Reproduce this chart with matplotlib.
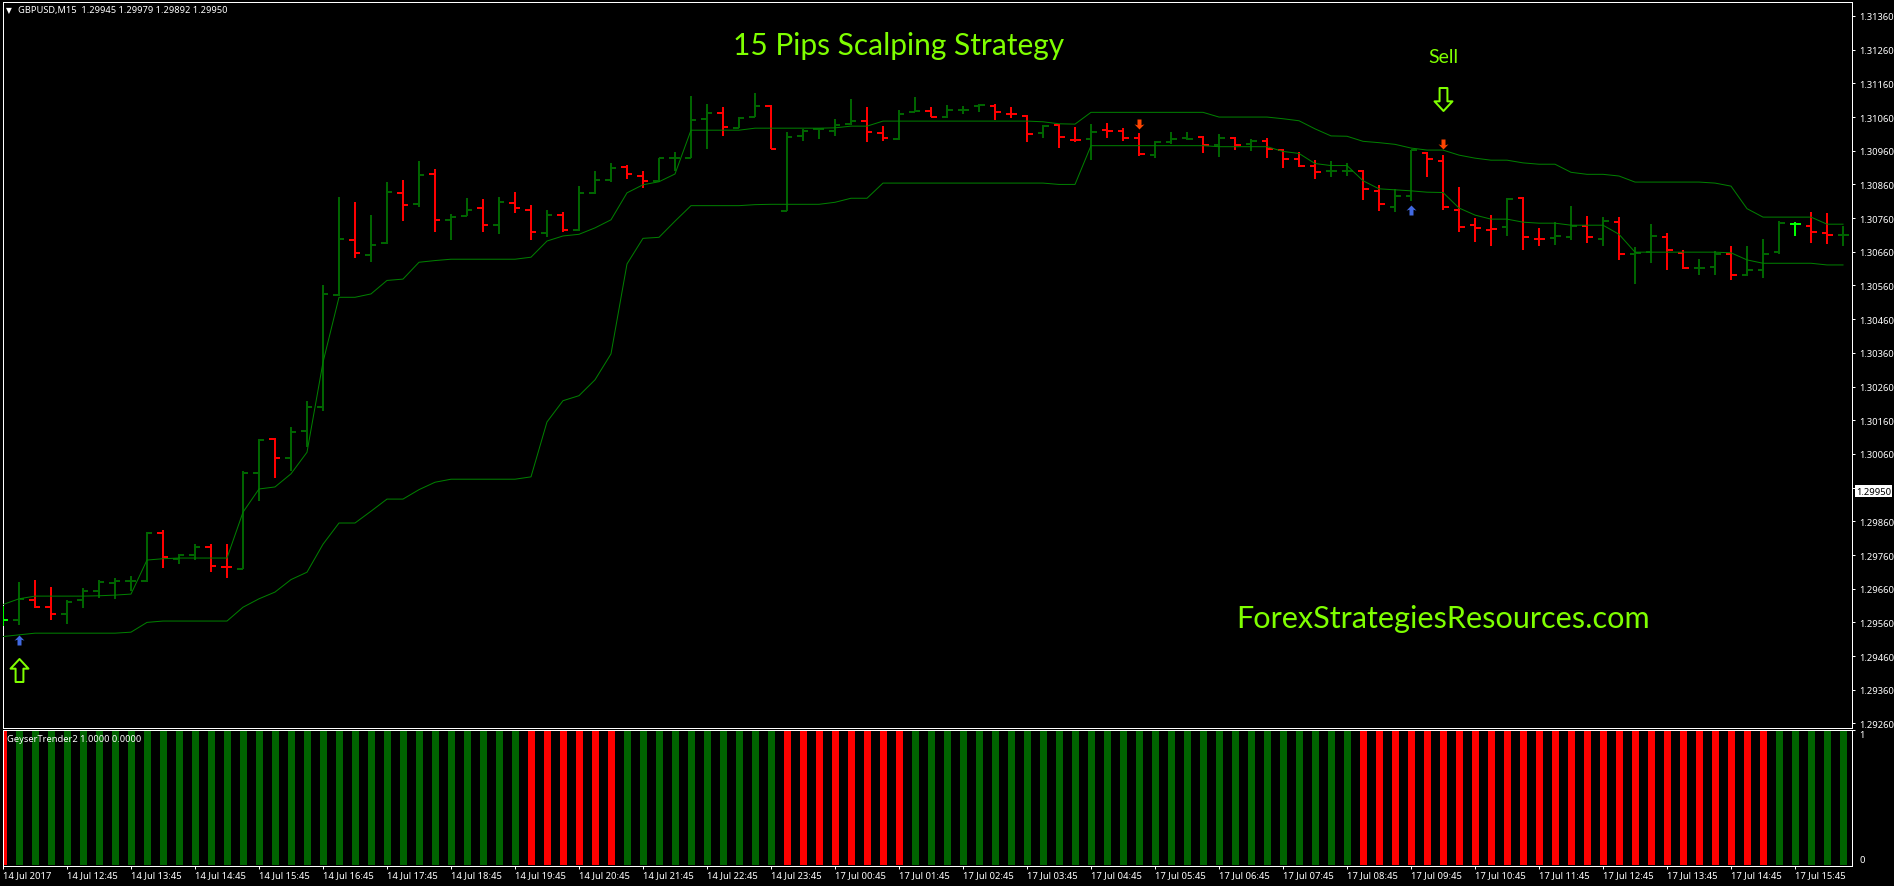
"""
GBPUSD M15 bar chart with the two band lines and the GeyserTrender2 sub window.
"""
import matplotlib
matplotlib.use("Agg")
import matplotlib.pyplot as plt
import numpy as np
from matplotlib.path import Path

# Prices are in points (1.29610 -> 129610)
highs = [
    129610, 129680, 129686, 129665, 129626, 129662, 129686, 129691, 129697, 129828,
    129834, 129763, 129792, 129792, 129792, 130009, 130105, 130108, 130140, 130218,
    130562, 130822, 130807, 130770, 130868, 130873, 130929, 130905, 130772, 130820,
    130817, 130822, 130837, 130798, 130784, 130778, 130855, 130899, 130923, 130917,
    130900, 130938, 130956, 131123, 131099, 131090, 131060, 131131, 131096, 131015,
    131025, 131027, 131055, 131114, 131090, 131033, 131080, 131119, 131090, 131096,
    131092, 131099, 131098, 131090, 131066, 131037, 131038, 131031, 131039, 131043,
    131028, 131013, 130988, 131016, 131016, 131003, 131009, 131000, 130995, 130997,
    130965, 130956, 130932, 130929, 130924, 130902, 130858, 130847, 130963, 130956,
    130948, 130852, 130760, 130769, 130819, 130822, 130731, 130748, 130796, 130767,
    130763, 130763, 130674, 130743, 130716, 130665, 130639, 130662, 130678, 130678,
    130699, 130751, 130748, 130779, 130776, 130737,
]
lows = [
    129548, 129551, 129604, 129568, 129556, 129604, 129633, 129630, 129654, 129681,
    129722, 129734, 129746, 129710, 129692, 129717, 129919, 129989, 130010, 130082,
    130186, 130530, 130641, 130629, 130682, 130750, 130794, 130718, 130696, 130765,
    130718, 130714, 130776, 130696, 130704, 130719, 130722, 130831, 130868, 130877,
    130849, 130868, 130899, 130938, 130964, 131005, 131027, 131060, 130964, 130781,
    130988, 130995, 131005, 131035, 130987, 130990, 130993, 131074, 131060, 131057,
    131069, 131074, 131050, 131058, 130987, 130999, 130968, 130985, 130934, 130998,
    130990, 130945, 130939, 130981, 130993, 130952, 130942, 130963, 130960, 130939,
    130909, 130911, 130877, 130882, 130885, 130814, 130782, 130779, 130811, 130882,
    130783, 130719, 130690, 130678, 130707, 130666, 130678, 130681, 130696, 130687,
    130678, 130636, 130565, 130627, 130606, 130609, 130592, 130592, 130577, 130589,
    130583, 130654, 130707, 130687, 130684, 130678,
]
opens = [
    129568, 129568, 129627, 129606, 129586, 129627, 129652, 129677, 129683, 129683,
    129824, 129749, 129759, 129785, 129725, 129719, 130004, 130105, 130049, 130127,
    130198, 130533, 130696, 130651, 130686, 130835, 130802, 130891, 130753, 130767,
    130790, 130740, 130805, 130785, 130716, 130770, 130725, 130834, 130874, 130911,
    130886, 130871, 130938, 130939, 131055, 131072, 131028, 131061, 131093, 130782,
    131004, 131025, 131019, 131038, 131049, 131014, 130996, 131075, 131078, 131060,
    131082, 131094, 131092, 131069, 131064, 131014, 131035, 130993, 130995, 131022,
    131019, 130997, 130948, 130986, 130997, 131001, 130977, 130999, 130980, 130988,
    130962, 130936, 130914, 130900, 130900, 130900, 130841, 130794, 130826, 130953,
    130930, 130785, 130740, 130725, 130733, 130821, 130699, 130701, 130704, 130737,
    130699, 130749, 130654, 130660, 130704, 130657, 130611, 130615, 130654, 130592,
    130606, 130660, 130742, 130738, 130716, 130710,
]
closes = [
    129568, 129630, 129606, 129586, 129622, 129652, 129681, 129683, 129683, 129826,
    129755, 129759, 129785, 129728, 129725, 130002, 130102, 130048, 130124, 130198,
    130536, 130698, 130655, 130681, 130838, 130799, 130888, 130753, 130764, 130785,
    130740, 130808, 130790, 130719, 130770, 130725, 130835, 130874, 130909, 130891,
    130871, 130937, 130939, 131052, 131072, 131031, 131058, 131092, 130966, 131001,
    131020, 131025, 131037, 131049, 131016, 130998, 131069, 131078, 131061, 131082,
    131082, 131096, 131076, 131069, 131011, 131034, 131001, 130993, 131017, 131019,
    130998, 130950, 130985, 130995, 130995, 130977, 130998, 130977, 130989, 130966,
    130936, 130914, 130897, 130900, 130900, 130845, 130802, 130827, 130961, 130936,
    130794, 130734, 130731, 130728, 130816, 130705, 130699, 130707, 130737, 130704,
    130752, 130654, 130657, 130707, 130666, 130612, 130611, 130654, 130592, 130606,
    130654, 130745, 130742, 130720, 130710, 130710,
]
upper_band = [
    129613, 129630, 129638, 129638, 129638, 129638, 129639, 129641, 129644, 129745,
    129749, 129751, 129751, 129751, 129751, 129887, 129956, 129962, 130001, 130065,
    130332, 130525, 130525, 130535, 130575, 130579, 130629, 130634, 130638, 130638,
    130638, 130638, 130638, 130644, 130692, 130707, 130712, 130731, 130755, 130835,
    130859, 130868, 130891, 131021, 131021, 131021, 131021, 131027, 131027, 131027,
    131027, 131027, 131028, 131033, 131033, 131048, 131048, 131048, 131048, 131048,
    131048, 131048, 131048, 131048, 131048, 131046, 131040, 131039, 131074, 131074,
    131074, 131074, 131074, 131074, 131074, 131074, 131060, 131060, 131060, 131060,
    131055, 131049, 131025, 131004, 131003, 130988, 130984, 130979, 130968, 130962,
    130962, 130947, 130938, 130932, 130932, 130924, 130920, 130920, 130896, 130890,
    130890, 130885, 130867, 130867, 130867, 130867, 130867, 130864, 130855, 130788,
    130763, 130763, 130763, 130763, 130742, 130742,
]
lower_band = [
    129518, 129523, 129528, 129528, 129528, 129528, 129528, 129528, 129531, 129560,
    129564, 129564, 129564, 129564, 129564, 129605, 129630, 129650, 129687, 129709,
    129792, 129855, 129855, 129890, 129926, 129926, 129954, 129976, 129985, 129985,
    129985, 129985, 129985, 129992, 130155, 130218, 130233, 130280, 130357, 130624,
    130700, 130703, 130751, 130797, 130797, 130797, 130797, 130800, 130801, 130801,
    130801, 130801, 130807, 130819, 130819, 130864, 130864, 130864, 130864, 130864,
    130864, 130864, 130864, 130864, 130864, 130864, 130860, 130860, 130975, 130975,
    130975, 130975, 130975, 130975, 130975, 130975, 130972, 130972, 130972, 130972,
    130958, 130952, 130922, 130916, 130916, 130871, 130847, 130844, 130841, 130837,
    130836, 130790, 130769, 130757, 130757, 130748, 130745, 130745, 130739, 130739,
    130739, 130712, 130659, 130659, 130659, 130659, 130659, 130659, 130657, 130636,
    130626, 130626, 130626, 130626, 130621, 130621,
]

red_bars = [2, 3, 10, 13, 14, 17, 22, 25, 27, 30, 32, 33, 35, 39, 40, 45, 48, 54, 55, 58,
            62, 63, 64, 66, 67, 69, 70, 71, 75, 77, 79, 80, 81, 82, 85, 86, 89, 90, 91,
            92, 93, 95, 96, 99, 101, 104, 105, 108, 113, 114]
lime_bars = [0, 112]

# GeyserTrender2 sub window: bars that are red, the others are green
trender_red = [0] + list(range(33, 39)) + list(range(49, 57)) + list(range(85, 111))

buy_signal_bars = [1, 88]
buy_signal_prices = [129508, 130785]
sell_signal_bars = [71, 90]
sell_signal_prices = [131040, 130980]

x_tick_bars = list(range(0, 116, 4))
x_tick_labels = [
    "14 Jul 2017", "14 Jul 12:45", "14 Jul 13:45", "14 Jul 14:45", "14 Jul 15:45",
    "14 Jul 16:45", "14 Jul 17:45", "14 Jul 18:45", "14 Jul 19:45", "14 Jul 20:45",
    "14 Jul 21:45", "14 Jul 22:45", "14 Jul 23:45", "17 Jul 00:45", "17 Jul 01:45",
    "17 Jul 02:45", "17 Jul 03:45", "17 Jul 04:45", "17 Jul 05:45", "17 Jul 06:45",
    "17 Jul 07:45", "17 Jul 08:45", "17 Jul 09:45", "17 Jul 10:45", "17 Jul 11:45",
    "17 Jul 12:45", "17 Jul 13:45", "17 Jul 14:45", "17 Jul 15:45",
]
price_ticks = [
    131360, 131260, 131160, 131060, 130960, 130860, 130760, 130660, 130560, 130460, 130360,
    130260, 130160, 130060, 129960, 129860, 129760, 129660, 129560, 129460, 129360, 129260,
]
current_price = 129950

BG = "black"
BAR_GREEN = "#006400"
LINE_GREEN = "#008000"
LIME = "#00FF00"
RED = "#FF0000"
TEXT_GREEN = "#7FFF00"
LABEL_FONT = "Noto Sans"
W, H = 1894, 887
PX = 72 / 100  # one pixel in points at dpi 100


def to_price(points):
    return np.asarray(points) / 100000


def arrow_path(down=False):
    # small solid signal arrow
    v = [(0, 0.5), (0.5, -0.02), (0.2, 0.08), (0.2, -0.5), (-0.2, -0.5), (-0.2, 0.08),
         (-0.5, -0.02), (0, 0.5)]
    if down:
        v = [(a, -b) for a, b in v]
    return Path(v, closed=True)


def hollow_arrow_path(down=False):
    v = [(0, 0.5), (0.39, 0.08), (0.17, 0.08), (0.17, -0.5), (-0.17, -0.5), (-0.17, 0.08),
         (-0.39, 0.08), (0, 0.5)]
    if down:
        v = [(a, -b) for a, b in v]
    return Path(v, closed=True)


fig = plt.figure(figsize=(W / 100, H / 100), dpi=100, facecolor=BG)
ax = fig.add_axes([2.5 / W, 1 - 728.5 / H, 1849 / W, 726 / H], facecolor=BG)
sub = fig.add_axes([2.5 / W, 1 - 866.5 / H, 1849 / W, 135.5 / H], facecolor=BG)

n = len(highs)
x = np.arange(n)
bar_colors = [BAR_GREEN] * n
for i in red_bars:
    bar_colors[i] = RED
for i in lime_bars:
    bar_colors[i] = LIME

# Bars: stem, open tick to the left, close tick to the right
tick_len = 5.5 / 16
ax.vlines(x, to_price(lows), to_price(highs), colors=bar_colors, linewidth=2 * PX,
          antialiased=False, zorder=3)
ax.hlines(to_price(opens), x - tick_len, x, colors=bar_colors, linewidth=2 * PX,
          antialiased=False, zorder=3)
ax.hlines(to_price(closes), x, x + tick_len, colors=bar_colors, linewidth=2 * PX,
          antialiased=False, zorder=3)

# Band lines
ax.plot(x, to_price(upper_band), color=LINE_GREEN, linewidth=1 * PX, zorder=4)
ax.plot(x, to_price(lower_band), color=LINE_GREEN, linewidth=1 * PX, zorder=4)

# Signal arrows
ax.plot(buy_signal_bars, to_price(buy_signal_prices), linestyle="none", marker=arrow_path(),
        markersize=10 * PX, color="#4169E1", markeredgewidth=0, zorder=5)
ax.plot(sell_signal_bars, to_price(sell_signal_prices), linestyle="none", marker=arrow_path(True),
        markersize=10 * PX, color="#FF4500", markeredgewidth=0, zorder=5)

# Hand drawn arrows and texts
ax.plot([1], to_price([129419]), linestyle="none", marker=hollow_arrow_path(), markersize=23 * PX,
        markerfacecolor="none", markeredgecolor=TEXT_GREEN, markeredgewidth=2 * PX, zorder=6)
ax.plot([90], to_price([131115]), linestyle="none", marker=hollow_arrow_path(True), markersize=23 * PX,
        markerfacecolor="none", markeredgecolor=TEXT_GREEN, markeredgewidth=2 * PX, zorder=6)
ax.text(90, to_price(131239), "Sell", color=TEXT_GREEN, fontsize=14, family="Lato",
        ha="center", va="center")
fig.text(899 / W, 1 - 45.5 / H, "15 Pips Scalping Strategy", color=TEXT_GREEN, fontsize=21.5,
         family="Lato", ha="center", va="center")
fig.text(1443 / W, 1 - 619 / H, "ForexStrategiesResources.com", color=TEXT_GREEN, fontsize=22.1,
         family="Lato", ha="center", va="center")

# Chart header
fig.text(6 / W, 1 - 10.5 / H, "\u25BC", color="white", fontsize=5.5, family="DejaVu Sans",
         va="center", ha="left")
fig.text(18 / W, 1 - 10.5 / H, "GBPUSD,M15  1.29945 1.29979 1.29892 1.29950", color="white",
         fontsize=6.7, family=LABEL_FONT, va="center", ha="left")
fig.text(7 / W, 1 - 739.5 / H, "GeyserTrender2 1.0000 0.0000", color="white",
         fontsize=6.7, family=LABEL_FONT, va="center", ha="left", zorder=10)

# Sub window bars, drawn as wide stems so each one snaps to the same 7 pixels
trender_values = [1] * n
trender_colors = [RED if i in trender_red else BAR_GREEN for i in range(n)]
sub.vlines(x, 0, trender_values, colors=trender_colors, linewidth=7 * PX, antialiased=False)

# Scales: bar i sits at 3 + 16 * i pixels
ax.set_xlim(-0.03, 115.53)
sub.set_xlim(-0.03, 115.53)
ax.set_ylim(to_price(129248), to_price(131403))
sub.set_ylim(-0.01, 1.0)

for a in (ax, sub):
    a.yaxis.tick_right()
    for s in a.spines.values():
        s.set_color("white")
        s.set_linewidth(1 * PX)

ax.set_xticks([])
ax.set_yticks(to_price(price_ticks))
# 1.29960 sits behind the current price box
ax.set_yticklabels([f"{p / 100000:.5f}" if p != 129960 else "" for p in price_ticks])
ax.tick_params(axis="y", colors="white", length=3 * PX, width=1 * PX, pad=3 * PX * 1.5,
               labelsize=6.8, labelfontfamily=LABEL_FONT)

sub.set_xticks(x_tick_bars)
sub.set_xticklabels(x_tick_labels, ha="left")
sub.tick_params(axis="x", colors="white", length=3 * PX, width=1 * PX, pad=1.5, labelsize=6.8,
                labelfontfamily=LABEL_FONT)
sub.set_yticks([0, 1])
sub.set_yticklabels(["0", "1"])
sub.tick_params(axis="y", colors="white", length=3 * PX, width=1 * PX, pad=3 * PX * 1.5,
                labelsize=6.8, labelfontfamily=LABEL_FONT)
sub.get_yticklabels()[0].set_va("bottom")
sub.get_yticklabels()[1].set_va("top")
sub.yaxis.get_major_ticks()[0].tick2line.set_visible(False)

# Current price box on the price scale
ax.annotate(f"{current_price / 100000:.5f}", xy=(1, to_price(current_price)),
            xycoords=ax.get_yaxis_transform(), xytext=(4.5 * PX, 0), textcoords="offset points",
            color="black", fontsize=6.8, family=LABEL_FONT, va="center", ha="left",
            bbox=dict(boxstyle="square,pad=0.12", facecolor="white", edgecolor="white", linewidth=0),
            annotation_clip=False, zorder=10)

plt.savefig("out.png", dpi=100, facecolor=BG)
plt.close()
